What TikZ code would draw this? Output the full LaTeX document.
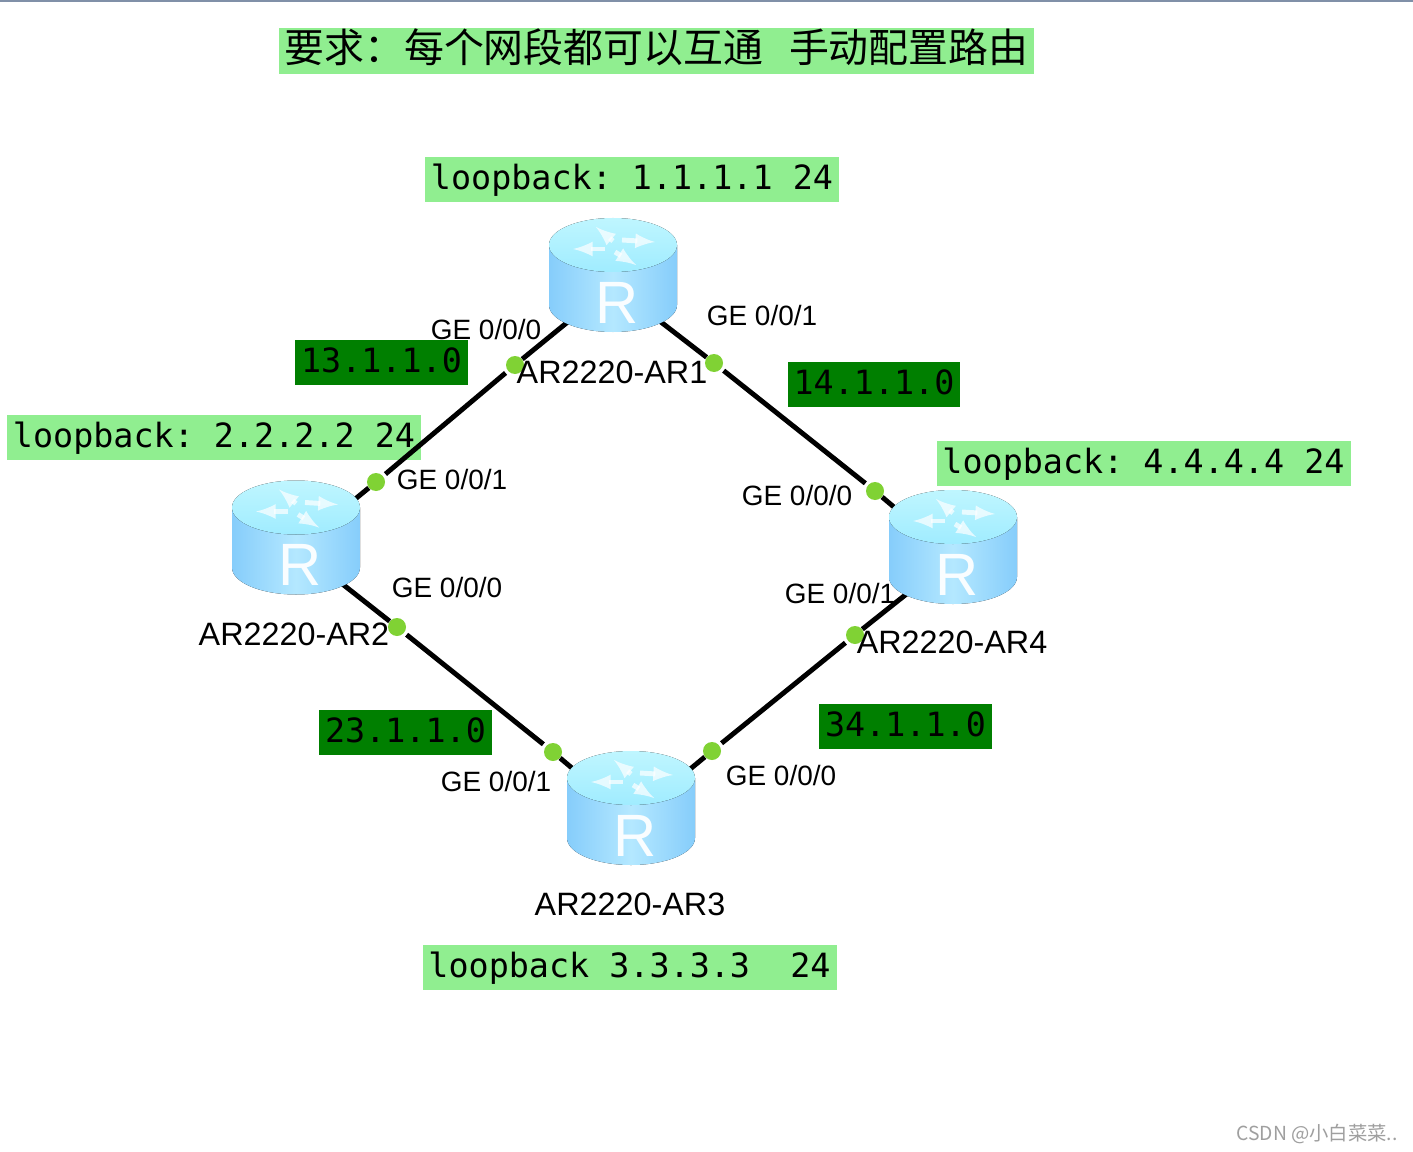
\documentclass[tikz,border=0pt]{standalone}
\usepackage{fontspec}
\setmainfont{Liberation Sans}
\setmonofont{DejaVu Sans Mono}
\newfontfamily\cjkfont{Noto Sans CJK SC}
\usetikzlibrary{positioning}
\definecolor{lightgrn}{HTML}{90EE90}
\definecolor{darkgrn}{HTML}{007F00}
\definecolor{portgrn}{HTML}{80D234}
\definecolor{rtrside}{HTML}{86CDFB}
\definecolor{rtrmid}{HTML}{B4E8FF}
\definecolor{rtrtop}{HTML}{BFF6FF}
\definecolor{rtrtopb}{HTML}{A0ECFF}
\definecolor{topline}{HTML}{8090A8}
\tikzset{
  loopbox/.style={rectangle,fill=lightgrn,minimum width=8.28cm,minimum height=.9cm,inner sep=0pt,text height=.55cm,text depth=.15cm,font=\ttfamily\fontsize{19}{20}\selectfont},
  netbox/.style={rectangle,fill=darkgrn,minimum width=3.45cm,minimum height=.9cm,inner sep=0pt,text height=.55cm,text depth=.15cm,font=\ttfamily\fontsize{19}{20}\selectfont},
  gelabel/.style={font=\fontsize{15.9}{18}\selectfont,inner sep=0pt},
  rtrlabel/.style={font=\fontsize{18.4}{20}\selectfont,inner sep=0pt},
  portdot/.style={circle,fill=portgrn,minimum size=.36cm,inner sep=0pt},
  link/.style={line width=2.8pt,black},
  midlink/.style={link,shorten >=.06cm,shorten <=.06cm},
  router/.pic={
    \fill[left color=rtrside,right color=rtrside,middle color=rtrmid] (-1.28,.8) -- (-1.28,-.4) arc (180:360:1.28 and .54) -- (1.28,.8) -- cycle;
    \fill[top color=rtrtop,bottom color=rtrtopb] (0,.8) ellipse (1.28 and .54);
    \node[text=white!92!rtrmid,inner sep=0pt,anchor=base,font=\fontsize{34}{36}\selectfont] at (.08,-.76) {R};
    \begin{scope}[shift={(0,.8)},white,opacity=.7,line width=2.8pt,-latex]
      \draw (0,.08) -- (-.34,.36);
      \draw (.18,.1) -- (.84,.06);
      \draw (.04,-.14) -- (.46,-.4);
      \draw (-.16,-.08) -- (-.8,-.08);
    \end{scope}
  }
}

\begin{document}
\begin{tikzpicture}
  \useasboundingbox (0,0) rectangle (28.26,-23.04);
  \fill[white] (0,0) rectangle (28.26,-23.04);
  \fill[topline] (0,0) rectangle (28.26,-.05);

  % title
  \node[rectangle,fill=lightgrn,minimum width=15.1cm,minimum height=.92cm,inner sep=0pt,text height=.55cm,text depth=.07cm,font=\cjkfont\fontsize{22.7}{24}\selectfont] (title) at (13.13,-1.02) {要求：每个网段都可以互通\hspace{.65em}手动配置路由};

  % loopback addresses
  \node[loopbox] (lb1) at (12.64,-3.59) {loopback: 1.1.1.1 24};
  \node[loopbox] (lb2) at (4.28,-8.75) {loopback: 2.2.2.2 24};
  \node[loopbox] (lb3) at (12.59,-19.35) {loopback 3.3.3.3~~24};
  \node[loopbox] (lb4) at (22.87,-9.27) {loopback: 4.4.4.4 24};

  % network segments
  \node[netbox] (net13) at (7.63,-7.25) {13.1.1.0};
  \node[netbox] (net14) at (17.48,-7.68) {14.1.1.0};
  \node[netbox] (net23) at (8.11,-14.65) {23.1.1.0};
  \node[netbox] (net34) at (18.11,-14.53) {34.1.1.0};

  % router centres
  \coordinate (ar1) at (12.26,-5.7);
  \coordinate (ar2) at (5.92,-10.95);
  \coordinate (ar3) at (12.62,-16.36);
  \coordinate (ar4) at (19.06,-11.14);

  % ports
  \node[portdot] (p1a) at (10.3,-7.3) {};
  \node[portdot] (p1b) at (14.28,-7.26) {};
  \node[portdot] (p2a) at (7.52,-9.64) {};
  \node[portdot] (p2b) at (7.94,-12.54) {};
  \node[portdot] (p3a) at (11.06,-15.04) {};
  \node[portdot] (p3b) at (14.24,-15.02) {};
  \node[portdot] (p4a) at (17.5,-9.82) {};
  \node[portdot] (p4b) at (17.1,-12.7) {};

  % links
  \draw[link] (ar1) -- (p1a);
  \draw[midlink] (p1a) -- (p2a);
  \draw[link] (p2a) -- (ar2);
  \draw[link] (ar1) -- (p1b);
  \draw[midlink] (p1b) -- (p4a);
  \draw[link] (p4a) -- (ar4);
  \draw[link] (ar2) -- (p2b);
  \draw[midlink] (p2b) -- (p3a);
  \draw[link] (p3a) -- (ar3);
  \draw[link] (ar3) -- (p3b);
  \draw[midlink] (p3b) -- (p4b);
  \draw[link] (p4b) -- (ar4);

  % routers
  \pic at (ar1) {router};
  \pic at (ar2) {router};
  \pic at (ar3) {router};
  \pic at (ar4) {router};

  % router names
  \node[rtrlabel] (name1) at (12.24,-7.44) {AR2220-AR1};
  \node[rtrlabel] (name2) at (5.88,-12.68) {AR2220-AR2};
  \node[rtrlabel] (name3) at (12.6,-18.08) {AR2220-AR3};
  \node[rtrlabel] (name4) at (19.04,-12.84) {AR2220-AR4};

  % interface names
  \node[gelabel] (ge1a) at (9.72,-6.6) {GE 0/0/0};
  \node[gelabel] (ge1b) at (15.24,-6.32) {GE 0/0/1};
  \node[gelabel] (ge2a) at (9.04,-9.6) {GE 0/0/1};
  \node[gelabel] (ge2b) at (8.94,-11.76) {GE 0/0/0};
  \node[gelabel] (ge3a) at (9.92,-15.64) {GE 0/0/1};
  \node[gelabel] (ge3b) at (15.62,-15.52) {GE 0/0/0};
  \node[gelabel] (ge4a) at (15.94,-9.92) {GE 0/0/0};
  \node[gelabel] (ge4b) at (16.8,-11.88) {GE 0/0/1};

  % watermark
  \node[text=gray!75,inner sep=0pt,anchor=east,font=\cjkfont\fontsize{11}{13}\selectfont] (mark) at (27.96,-22.68) {CSDN @小白菜菜..};
\end{tikzpicture}
\end{document}
